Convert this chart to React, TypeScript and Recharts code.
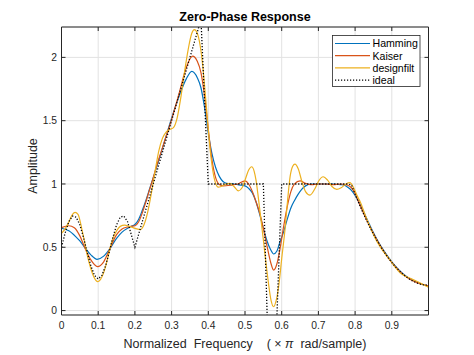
import React from 'react';
import { LineChart, Line, XAxis, YAxis, CartesianGrid } from 'recharts';

// ---------- data ----------
const hammingFreq = [0, 0.02, 0.04, 0.05, 0.063, 0.08, 0.097, 0.115, 0.132, 0.15, 0.165, 0.18, 0.19, 0.2, 0.21, 0.22, 0.23, 0.24, 0.25, 0.26, 0.28, 0.3, 0.32, 0.34, 0.355, 0.37, 0.38, 0.39, 0.4, 0.41, 0.42, 0.43, 0.44, 0.45, 0.47, 0.49, 0.5, 0.51, 0.52, 0.53, 0.54, 0.55, 0.56, 0.57, 0.578, 0.587, 0.595, 0.605, 0.615, 0.625, 0.635, 0.645, 0.655, 0.665, 0.68, 0.7, 0.72, 0.74, 0.76, 0.77, 0.78, 0.79, 0.8, 0.81, 0.82, 0.84, 0.86, 0.88, 0.9, 0.92, 0.94, 0.96, 0.98, 1];
const hammingAmp = [0.65, 0.63, 0.58, 0.55, 0.5, 0.44, 0.405, 0.43, 0.49, 0.57, 0.62, 0.65, 0.665, 0.68, 0.72, 0.79, 0.87, 0.96, 1.05, 1.14, 1.33, 1.52, 1.69, 1.83, 1.89, 1.84, 1.76, 1.6, 1.4, 1.24, 1.13, 1.06, 1.02, 1.005, 1.0, 0.99, 0.985, 0.965, 0.93, 0.86, 0.76, 0.65, 0.55, 0.48, 0.447, 0.47, 0.54, 0.62, 0.72, 0.81, 0.87, 0.92, 0.96, 0.985, 1.0, 1.0, 1.0, 1.0, 0.995, 0.99, 0.975, 0.95, 0.91, 0.86, 0.8, 0.675, 0.56, 0.465, 0.385, 0.32, 0.27, 0.235, 0.21, 0.195];

const kaiserFreq = [0, 0.02, 0.035, 0.05, 0.063, 0.08, 0.098, 0.115, 0.132, 0.15, 0.165, 0.18, 0.19, 0.2, 0.21, 0.22, 0.23, 0.24, 0.25, 0.26, 0.28, 0.3, 0.32, 0.34, 0.357, 0.37, 0.38, 0.39, 0.4, 0.41, 0.42, 0.43, 0.44, 0.46, 0.48, 0.5, 0.51, 0.52, 0.53, 0.54, 0.55, 0.56, 0.57, 0.578, 0.587, 0.595, 0.605, 0.615, 0.625, 0.635, 0.65, 0.665, 0.68, 0.7, 0.72, 0.74, 0.76, 0.78, 0.79, 0.8, 0.81, 0.82, 0.84, 0.86, 0.88, 0.9, 0.92, 0.94, 0.96, 0.98, 1];
const kaiserAmp = [0.655, 0.67, 0.655, 0.59, 0.5, 0.4, 0.347, 0.385, 0.49, 0.6, 0.645, 0.66, 0.665, 0.67, 0.7, 0.77, 0.86, 0.955, 1.05, 1.15, 1.33, 1.51, 1.71, 1.92, 2.01, 1.97, 1.88, 1.69, 1.43, 1.19, 1.05, 0.995, 0.985, 0.99, 1.0, 1.025, 1.0, 0.94, 0.86, 0.77, 0.65, 0.51, 0.38, 0.32, 0.37, 0.48, 0.66, 0.82, 0.94, 1.0, 1.025, 1.005, 0.995, 1.0, 1.0, 0.995, 1.0, 0.99, 0.97, 0.925, 0.855, 0.79, 0.665, 0.555, 0.46, 0.38, 0.315, 0.265, 0.232, 0.21, 0.195];

const designfiltFreq = [0, 0.01, 0.02, 0.03, 0.037, 0.045, 0.055, 0.063, 0.07, 0.08, 0.09, 0.098, 0.106, 0.115, 0.124, 0.132, 0.14, 0.15, 0.16, 0.172, 0.185, 0.195, 0.205, 0.215, 0.225, 0.235, 0.245, 0.255, 0.265, 0.275, 0.285, 0.295, 0.305, 0.315, 0.325, 0.335, 0.345, 0.355, 0.362, 0.37, 0.378, 0.385, 0.39, 0.395, 0.4, 0.405, 0.41, 0.415, 0.42, 0.427, 0.435, 0.447, 0.459, 0.47, 0.482, 0.492, 0.5, 0.51, 0.518, 0.525, 0.53, 0.536, 0.543, 0.55, 0.557, 0.564, 0.571, 0.578, 0.585, 0.593, 0.6, 0.609, 0.616, 0.623, 0.63, 0.636, 0.645, 0.655, 0.665, 0.677, 0.69, 0.7, 0.713, 0.725, 0.737, 0.75, 0.762, 0.775, 0.786, 0.795, 0.805, 0.813, 0.827, 0.84, 0.855, 0.868, 0.88, 0.895, 0.91, 0.922, 0.935, 0.95, 0.965, 0.986, 1];
const designfiltAmp = [0.61, 0.645, 0.7, 0.76, 0.775, 0.76, 0.65, 0.54, 0.44, 0.33, 0.255, 0.228, 0.245, 0.3, 0.39, 0.49, 0.57, 0.63, 0.665, 0.675, 0.665, 0.655, 0.645, 0.64, 0.68, 0.78, 0.93, 1.1, 1.26, 1.36, 1.41, 1.43, 1.445, 1.52, 1.68, 1.88, 2.06, 2.19, 2.22, 2.19, 2.09, 1.93, 1.77, 1.6, 1.43, 1.27, 1.15, 1.06, 1.005, 0.975, 0.98, 0.998, 1.005, 0.98, 0.946, 0.97, 1.03, 1.11, 1.136, 1.1, 1.03, 0.9, 0.73, 0.56, 0.38, 0.215, 0.08, 0.03, 0.08, 0.22, 0.41, 0.64, 0.87, 1.06, 1.14, 1.157, 1.12, 1.02, 0.94, 0.912, 0.96, 1.02, 1.057, 1.03, 0.98, 0.957, 0.97, 1.0, 1.01, 0.975, 0.91, 0.865, 0.76, 0.665, 0.57, 0.505, 0.455, 0.4, 0.34, 0.3, 0.275, 0.255, 0.235, 0.205, 0.185];

const idealFreq = [0, 0.01, 0.02, 0.03, 0.04, 0.05, 0.06, 0.07, 0.08, 0.09, 0.1, 0.11, 0.12, 0.13, 0.14, 0.15, 0.16, 0.17, 0.18, 0.2, 0.38, 0.4, 0.55, 0.562, 0.585, 0.6, 0.78, 0.79, 0.8, 0.81, 0.82, 0.83, 0.84, 0.85, 0.86, 0.87, 0.88, 0.89, 0.9, 0.91, 0.92, 0.93, 0.94, 0.95, 0.96, 0.97, 0.98, 0.99, 1];
const idealAmp = [0.5, 0.6135, 0.7023, 0.7469, 0.7378, 0.6768, 0.5773, 0.4609, 0.3531, 0.2773, 0.25, 0.2773, 0.3531, 0.4609, 0.5773, 0.6768, 0.7378, 0.7469, 0.7023, 0.5, 2.3, 1, 1, -0.2, -0.2, 1, 1, 0.9938, 0.92, 0.8498, 0.7832, 0.7202, 0.6608, 0.605, 0.5528, 0.5042, 0.4592, 0.4178, 0.38, 0.3458, 0.3152, 0.2882, 0.2648, 0.245, 0.2288, 0.2162, 0.2072, 0.2018, 0.2];

const xTicks = [0, 0.1, 0.2, 0.3, 0.4, 0.5, 0.6, 0.7, 0.8, 0.9];
const yTicks = [0, 0.5, 1, 1.5, 2];
const seriesNames = ['Hamming', 'Kaiser', 'designfilt', 'ideal'];

const toPoints = (f: number[], a: number[]) => f.map((x, i) => ({ x, y: a[i] }));

const COLORS = ['#0072BD', '#D95319', '#EDB120', '#000000'];
const DASHES = [undefined, undefined, undefined, '1.2 1.8'];
const FONT = '"Liberation Sans", Arial, Helvetica, sans-serif';
const AXIS = '#262626';

const series = [
  { name: seriesNames[0], data: toPoints(hammingFreq, hammingAmp), type: 'monotone' },
  { name: seriesNames[1], data: toPoints(kaiserFreq, kaiserAmp), type: 'monotone' },
  { name: seriesNames[2], data: toPoints(designfiltFreq, designfiltAmp), type: 'monotone' },
  { name: seriesNames[3], data: toPoints(idealFreq, idealAmp), type: 'linear' },
];

const EmptyTick = () => <g />;

export default function App() {
  const tickStyle = { fontSize: 10.3, fill: AXIS, fontFamily: FONT };
  return (
    <div style={{ position: 'absolute', left: 0, top: 0, width: 474, height: 355, background: '#fff', fontFamily: FONT }}>
      <LineChart width={474} height={355} margin={{ top: 26, right: 44.5, bottom: 0, left: 0 }}>
        <CartesianGrid stroke="#e2e2e2" strokeWidth={1} />
        <XAxis
          dataKey="x"
          type="number"
          domain={[0, 1]}
          ticks={xTicks}
          height={40}
          tickSize={-4}
          tickMargin={11}
          tick={tickStyle}
          stroke={AXIS}
          tickLine={{ stroke: AXIS }}
          axisLine={{ stroke: AXIS }}
          allowDataOverflow
        />
        <XAxis
          xAxisId="top"
          orientation="top"
          dataKey="x"
          type="number"
          domain={[0, 1]}
          ticks={xTicks}
          height={1}
          tickSize={-4}
          tick={EmptyTick}
          stroke={AXIS}
          allowDataOverflow
        />
        <YAxis
          type="number"
          domain={[-0.035, 2.24]}
          ticks={yTicks}
          width={61.5}
          tickSize={-4}
          tickMargin={8.5}
          tick={tickStyle}
          stroke={AXIS}
          allowDataOverflow
        />
        <YAxis
          yAxisId="right"
          orientation="right"
          type="number"
          domain={[-0.035, 2.24]}
          ticks={yTicks}
          width={1}
          tickSize={-4}
          tick={EmptyTick}
          stroke={AXIS}
          allowDataOverflow
        />
        {series.map((s, i) => (
          <Line
            key={s.name}
            data={s.data}
            dataKey="y"
            name={s.name}
            type={s.type as any}
            stroke={COLORS[i]}
            strokeWidth={i === 3 ? 1.3 : 1.2}
            strokeDasharray={DASHES[i]}
            dot={false}
            activeDot={false}
            isAnimationActive={false}
          />
        ))}
      </LineChart>
      <svg width={474} height={355} style={{ position: 'absolute', left: 0, top: 0, pointerEvents: 'none' }}>
        <text x={245} y={21} textAnchor="middle" fontWeight="bold" fontSize={12.5} fill="#000" fontFamily={FONT}>
          Zero-Phase Response
        </text>
        <text x={245} y={347.5} textAnchor="middle" fontSize={12.5} fill={AXIS} fontFamily={FONT} style={{ whiteSpace: 'pre' }}>
          {'Normalized  Frequency    ( × '}
          <tspan fontStyle="italic">π</tspan>
          {'  rad/sample)'}
        </text>
        <text transform="translate(37,166) rotate(-90)" x={0} y={0} textAnchor="middle" fontSize={12.5} fill={AXIS} fontFamily={FONT}>
          Amplitude
        </text>
        <rect x={332.5} y={35.5} width={87.5} height={51} fill="#fff" stroke={AXIS} strokeWidth={0.8} />
        {seriesNames.map((n, i) => {
          const cy = 43.5 + i * 12.2;
          return (
            <g key={n}>
              <line x1={335} x2={370} y1={cy} y2={cy} stroke={COLORS[i]} strokeWidth={1.2} strokeDasharray={DASHES[i]} />
              <text x={372.5} y={cy + 3.8} fontSize={10.6} fill="#000" fontFamily={FONT}>
                {n}
              </text>
            </g>
          );
        })}
      </svg>
    </div>
  );
}
